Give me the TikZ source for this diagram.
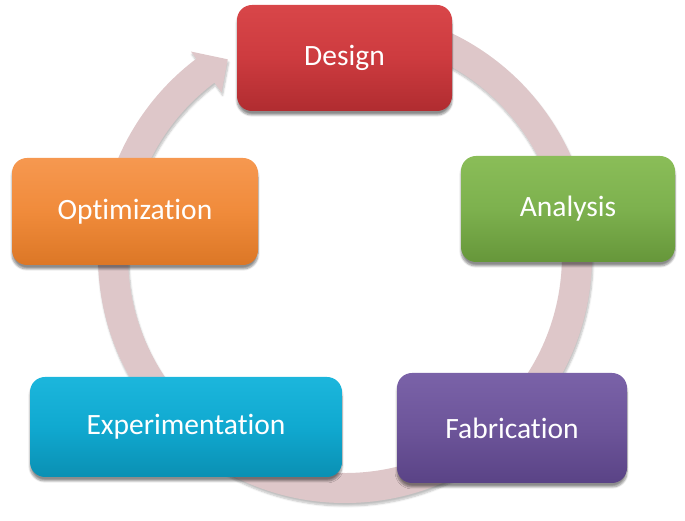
\documentclass[tikz,border=0pt]{standalone}
\usepackage{fontspec}
\setmainfont[Ligatures=NoCommon]{Carlito}
\usetikzlibrary{shadows.blur}
\definecolor{ringc}{HTML}{DEC7C9}
\definecolor{redT}{HTML}{D84649}\definecolor{redM}{HTML}{CD3B3F}\definecolor{redB}{HTML}{B02C30}
\definecolor{grnT}{HTML}{8ABD58}\definecolor{grnM}{HTML}{7DB14E}\definecolor{grnB}{HTML}{66963A}
\definecolor{purT}{HTML}{7A62A8}\definecolor{purM}{HTML}{6D559A}\definecolor{purB}{HTML}{5A4386}
\definecolor{cyaT}{HTML}{1CB6DC}\definecolor{cyaM}{HTML}{10A9D0}\definecolor{cyaB}{HTML}{0A90B3}
\definecolor{orgT}{HTML}{F69850}\definecolor{orgM}{HTML}{F08B3B}\definecolor{orgB}{HTML}{DC7726}
\begin{document}
\begin{tikzpicture}[x=1pt,y=1pt,
  box/.style={rounded corners=15pt, text=white, inner sep=0pt,
    font=\fontsize{29.5}{34}\selectfont,
    blur shadow={shadow xshift=0pt, shadow yshift=-4pt, shadow blur steps=8, shadow opacity=45}},
  ringstyle/.style={fill=ringc, blur shadow={shadow xshift=1pt, shadow yshift=-3pt, shadow blur steps=6, shadow opacity=25}}]
\useasboundingbox (0,0) rectangle (685,521);
% cycle ring with arrow head
\coordinate (c) at (345,265);
\begin{scope}[shift={(c)}]
\fill[ringstyle] (90:247) arc[start angle=90, end angle=-233, radius=247]
   -- (127:256) -- (120.8:229) -- (127:205) -- (127:217)
   arc[start angle=-233, end angle=90, radius=217] -- cycle;
\end{scope}
% boxes
\node[box, minimum width=215pt, minimum height=106pt, top color=redT, bottom color=redB, middle color=redM] (design) at (344.5,463) {Design};
\node[box, minimum width=214pt, minimum height=106pt, top color=grnT, bottom color=grnB, middle color=grnM] (analysis) at (568,312) {Analysis};
\node[box, minimum width=230pt, minimum height=110pt, top color=purT, bottom color=purB, middle color=purM] (fabrication) at (512,93) {Fabrication};
\node[box, minimum width=312pt, minimum height=100pt, top color=cyaT, bottom color=cyaB, middle color=cyaM] (experimentation) at (186,94) {Experimentation};
\node[box, minimum width=246pt, minimum height=107pt, top color=orgT, bottom color=orgB, middle color=orgM] (optimization) at (135,309.5) {Optimization};
\end{tikzpicture}
\end{document}
